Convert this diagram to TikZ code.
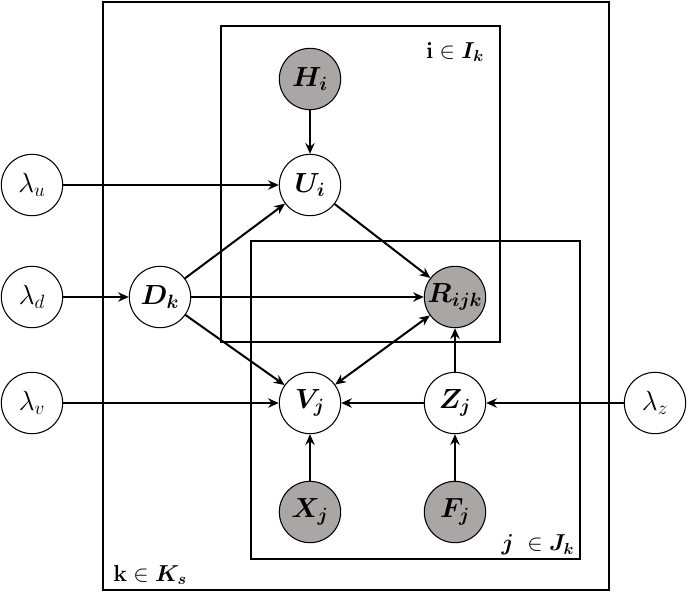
\documentclass[tikz,border=0pt]{standalone}
\usepackage{amsmath,bm}
\usetikzlibrary{arrows.meta}
\definecolor{obs}{RGB}{170,166,165}
\tikzset{
  var/.style={circle,draw,thick,minimum size=46pt,inner sep=0pt,font=\huge},
  obsvar/.style={var,fill=obs},
  edge/.style={-{Stealth[length=8pt,width=7pt]},line width=1.5pt},
  plate/.style={draw,thick}
}
\begin{document}
\begin{tikzpicture}[x=0.75pt,y=-0.75pt]
\useasboundingbox (0,0) rectangle (693,593);
% plates
\draw[plate] (103,2) rectangle (609,590);
\draw[plate] (221,26) rectangle (500,342);
\draw[plate] (251,241) rectangle (580,559);
\node[font=\LARGE] (lI) at (455,52) {$\mathbf{i}\in \bm{I_k}$};
\node[font=\LARGE] (lJ) at (538,545) {$\bm{j}\ \in \bm{J_k}$};
\node[font=\LARGE] (lK) at (150,575) {$\mathbf{k}\in \bm{K_s}$};
% variables
\node[var] (lu) at (32,185) {$\lambda_u$};
\node[var] (ld) at (32,297) {$\lambda_d$};
\node[var] (lv) at (32,403) {$\lambda_v$};
\node[var] (lz) at (655,403) {$\lambda_z$};
\node[obsvar] (H) at (310,79) {$\bm{H_i}$};
\node[var] (U) at (310,185) {$\bm{U_i}$};
\node[var] (D) at (160,297) {$\bm{D_k}$};
\node[obsvar] (R) at (455,297) {$\bm{R_{ijk}}$};
\node[var] (V) at (310,403) {$\bm{V_j}$};
\node[var] (Z) at (455,403) {$\bm{Z_j}$};
\node[obsvar] (X) at (310,512) {$\bm{X_j}$};
\node[obsvar] (F) at (455,512) {$\bm{F_j}$};
% edges
\draw[edge] (lu) -- (U);
\draw[edge] (ld) -- (D);
\draw[edge] (lv) -- (V);
\draw[edge] (lz) -- (Z);
\draw[edge] (H) -- (U);
\draw[edge] (D) -- (U);
\draw[edge] (D) -- (R);
\draw[edge] (D) -- (V);
\draw[edge] (U) -- (R);
\draw[edge,{Stealth[length=8pt,width=7pt]}-{Stealth[length=8pt,width=7pt]}] (V) -- (R);
\draw[edge] (Z) -- (V);
\draw[edge] (Z) -- (R);
\draw[edge] (X) -- (V);
\draw[edge] (F) -- (Z);
\end{tikzpicture}
\end{document}
